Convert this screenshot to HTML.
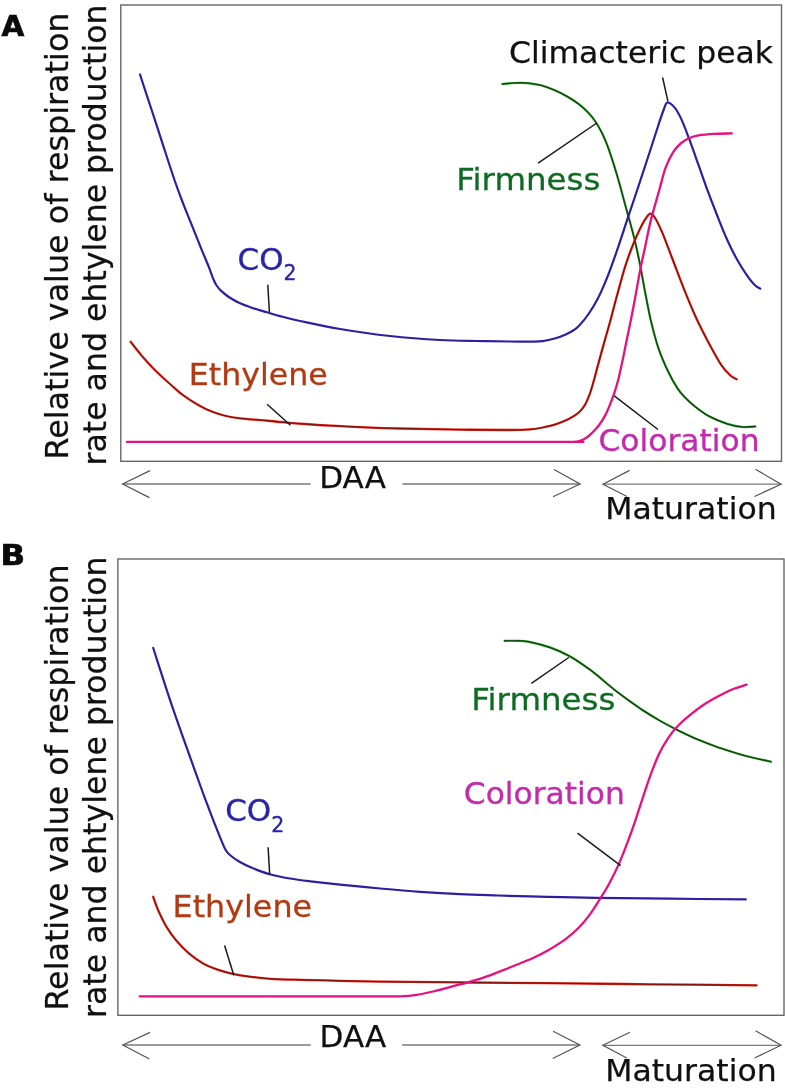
<!DOCTYPE html>
<html lang="en">
<head>
<meta charset="utf-8">
<title>Respiration and ethylene production during fruit development</title>
<style>
html,body{margin:0;padding:0;background:#fff;}
svg{display:block;}
text{font-family:"DejaVu Sans","Liberation Sans",sans-serif;}
.lbl{font-size:31px;}
.vl{font-size:32.5px;fill:#101010;stroke:#101010;stroke-width:0.25;}
.pl{font-size:30px;font-weight:bold;fill:#0a0a0a;stroke:#0a0a0a;stroke-width:0.7;stroke-linejoin:miter;}
.frame{fill:none;stroke:#666;stroke-width:1.4;}
.arr{fill:none;stroke:#7a7a7a;stroke-width:1.3;}
.arh{fill:none;stroke:#555;stroke-width:1.2;stroke-linejoin:miter;}
.lead{fill:none;stroke:#1a1a1a;stroke-width:1.5;}
.c{fill:none;stroke-width:2;stroke-linecap:round;stroke-linejoin:round;}
.blue{stroke:#2c20a0;stroke-width:2.2;}
.red{stroke:#dc1c12;stroke-width:2.3;}
.redk{stroke:#3a0d08;stroke-width:0.8;stroke-opacity:0.8;}
.mag{stroke:#e6107f;stroke-width:2.3;}
.grn{stroke:#1f961f;stroke-width:2.2;}
.grnk{stroke:#123a0c;stroke-width:1.05;}
.k{fill:#101010;stroke:#101010;stroke-width:0.25;}
.g{fill:#0e6b22;stroke:#0e6b22;stroke-width:0.3;}
.b{fill:#2a24a8;stroke:#2a24a8;stroke-width:0.3;}
.r{fill:#b23a12;stroke:#b23a12;stroke-width:0.3;}
.m{fill:#c42aac;stroke:#c42aac;stroke-width:0.35;}
</style>
</head>
<body>
<svg width="785" height="1088" viewBox="0 0 785 1088">
<rect width="785" height="1088" fill="#fff"/>

<!-- ================= PANEL A ================= -->
<g id="panelA">
<text class="pl" x="1.6" y="36.2" style="font-size:28.6px" textLength="22.8" lengthAdjust="spacingAndGlyphs">A</text>
<rect class="frame" x="120.8" y="5" width="660.7" height="456.3"/>
<text class="vl" transform="translate(68,459.5) rotate(-90)" textLength="447" lengthAdjust="spacingAndGlyphs">Relative value of respiration</text>
<text class="vl" transform="translate(105.5,465.5) rotate(-90)" textLength="461" lengthAdjust="spacingAndGlyphs">rate and ehtylene production</text>

<path class="c grn" d="M502.3,84.0 C504.3,83.8 509.9,83.2 514.1,83.0 C518.3,82.8 523.0,82.7 527.5,83.1 C532.0,83.5 536.4,84.1 540.9,85.3 C545.4,86.5 549.8,88.2 554.2,90.1 C558.7,92.0 563.5,94.4 567.6,96.8 C571.8,99.2 575.6,101.7 579.1,104.4 C582.6,107.1 585.8,110.1 588.6,113.0 C591.4,115.9 593.5,118.7 595.7,122.0 C597.9,125.3 600.0,129.0 602.0,133.1 C604.0,137.2 605.8,141.3 607.7,146.4 C609.6,151.5 611.6,157.6 613.5,163.6 C615.4,169.6 617.3,176.0 619.2,182.7 C621.1,189.4 623.0,196.8 624.9,203.8 C626.8,210.8 629.0,218.3 630.7,224.8 C632.5,231.3 633.9,236.4 635.4,243.0 C636.9,249.6 638.4,256.5 640.0,264.5 C641.6,272.5 643.1,281.8 644.9,291.0 C646.7,300.2 648.5,310.5 650.7,320.0 C653.0,329.5 655.5,339.6 658.4,348.2 C661.3,356.8 664.8,364.6 668.0,371.3 C671.2,378.1 674.9,384.4 677.7,388.7 C680.5,393.0 682.1,394.4 685.0,397.4 C687.9,400.4 691.1,403.4 695.0,406.5 C698.9,409.6 703.2,413.1 708.6,416.0 C714.0,418.9 721.6,422.1 727.3,423.9 C733.0,425.7 738.2,426.6 742.9,427.0 C747.6,427.4 753.3,426.5 755.4,426.4"/>
<path class="c grnk" d="M502.3,84.0 C504.3,83.8 509.9,83.2 514.1,83.0 C518.3,82.8 523.0,82.7 527.5,83.1 C532.0,83.5 536.4,84.1 540.9,85.3 C545.4,86.5 549.8,88.2 554.2,90.1 C558.7,92.0 563.5,94.4 567.6,96.8 C571.8,99.2 575.6,101.7 579.1,104.4 C582.6,107.1 585.8,110.1 588.6,113.0 C591.4,115.9 593.5,118.7 595.7,122.0 C597.9,125.3 600.0,129.0 602.0,133.1 C604.0,137.2 605.8,141.3 607.7,146.4 C609.6,151.5 611.6,157.6 613.5,163.6 C615.4,169.6 617.3,176.0 619.2,182.7 C621.1,189.4 623.0,196.8 624.9,203.8 C626.8,210.8 629.0,218.3 630.7,224.8 C632.5,231.3 633.9,236.4 635.4,243.0 C636.9,249.6 638.4,256.5 640.0,264.5 C641.6,272.5 643.1,281.8 644.9,291.0 C646.7,300.2 648.5,310.5 650.7,320.0 C653.0,329.5 655.5,339.6 658.4,348.2 C661.3,356.8 664.8,364.6 668.0,371.3 C671.2,378.1 674.9,384.4 677.7,388.7 C680.5,393.0 682.1,394.4 685.0,397.4 C687.9,400.4 691.1,403.4 695.0,406.5 C698.9,409.6 703.2,413.1 708.6,416.0 C714.0,418.9 721.6,422.1 727.3,423.9 C733.0,425.7 738.2,426.6 742.9,427.0 C747.6,427.4 753.3,426.5 755.4,426.4"/>
<path class="c blue" d="M140.0,74.5 C141.9,80.3 147.6,97.7 151.5,109.5 C155.4,121.3 159.4,133.8 163.2,145.6 C167.0,157.3 171.2,170.4 174.5,180.0 C177.8,189.6 180.0,195.2 182.9,202.9 C185.8,210.6 189.0,218.2 192.1,225.9 C195.2,233.6 198.5,241.9 201.3,248.8 C204.1,255.7 206.9,262.1 208.9,267.2 C210.9,272.3 212.2,276.3 213.5,279.4 C214.8,282.4 215.3,283.6 216.6,285.5 C217.9,287.4 219.2,289.0 221.2,290.9 C223.2,292.8 225.8,295.0 228.8,297.0 C231.9,299.0 235.7,301.3 239.5,303.1 C243.3,304.9 247.1,306.2 251.7,307.7 C256.3,309.2 262.3,310.9 267.0,312.3 C271.7,313.7 274.5,314.7 280.0,316.1 C285.5,317.6 290.0,318.9 300.0,321.0 C310.0,323.1 325.0,326.5 340.0,329.0 C355.0,331.5 373.3,334.2 390.0,336.0 C406.7,337.8 425.7,339.2 440.0,340.0 C454.3,340.8 464.3,340.8 476.0,341.0 C487.7,341.2 501.0,341.4 510.0,341.5 C519.0,341.6 524.5,341.8 530.0,341.7 C535.5,341.6 538.5,341.8 542.7,341.2 C547.0,340.6 551.7,339.4 555.5,338.3 C559.3,337.2 562.6,335.9 565.7,334.5 C568.8,333.1 571.7,331.5 574.0,330.0 C576.3,328.5 576.8,328.2 579.3,325.5 C581.8,322.8 585.7,318.2 588.9,313.5 C592.1,308.8 595.4,303.4 598.6,297.0 C601.8,290.6 605.0,283.1 608.2,274.9 C611.4,266.7 614.7,257.2 617.9,247.9 C621.1,238.6 624.3,228.6 627.5,218.9 C630.7,209.2 634.1,199.3 637.2,190.0 C640.3,180.7 642.5,173.9 646.1,163.0 C649.7,152.1 655.5,133.8 658.6,124.5 C661.7,115.2 663.0,111.2 664.5,107.5 C666.0,103.8 665.9,102.5 667.6,102.5 C669.3,102.5 672.2,104.7 674.5,107.4 C676.8,110.1 678.8,113.8 681.2,118.9 C683.6,124.0 686.0,130.5 688.9,138.2 C691.8,145.9 695.4,156.2 698.6,165.2 C701.8,174.2 705.0,183.5 708.2,192.2 C711.4,200.9 714.7,209.2 717.9,217.3 C721.1,225.4 724.3,233.4 727.5,240.5 C730.7,247.6 734.0,254.0 737.2,259.8 C740.4,265.6 743.9,271.0 746.8,275.2 C749.7,279.4 752.2,282.6 754.5,284.8 C756.8,287.1 759.3,288.1 760.3,288.7"/>
<path class="c red" d="M130.6,341.8 C132.6,344.2 138.4,351.9 142.4,356.5 C146.4,361.1 150.2,365.3 154.6,369.7 C159.0,374.1 164.2,378.8 168.9,383.0 C173.7,387.2 178.3,391.6 183.1,395.2 C187.8,398.8 192.6,401.7 197.4,404.4 C202.2,407.1 206.9,409.6 211.7,411.5 C216.5,413.4 221.2,414.9 226.0,416.0 C230.8,417.1 234.4,417.6 240.2,418.3 C246.0,419.0 253.6,419.5 260.6,420.1 C267.6,420.7 274.6,421.5 282.0,422.1 C289.4,422.8 297.0,423.4 305.0,424.0 C313.0,424.6 320.0,425.1 330.0,425.6 C340.0,426.2 353.3,426.8 365.0,427.3 C376.7,427.8 384.2,428.1 400.0,428.5 C415.8,428.9 441.7,429.4 460.0,429.6 C478.3,429.9 498.3,430.0 510.0,430.0 C521.7,430.0 524.5,429.8 530.0,429.4 C535.5,429.0 538.5,428.4 542.7,427.5 C547.0,426.6 551.2,425.7 555.5,424.3 C559.8,422.9 564.4,421.1 568.2,419.2 C572.0,417.3 575.6,415.1 578.4,412.8 C581.2,410.5 582.9,408.4 584.8,405.2 C586.7,402.0 588.4,397.7 589.9,393.7 C591.4,389.7 592.4,385.5 593.7,381.0 C595.0,376.5 596.2,371.6 597.5,366.9 C598.8,362.2 600.0,357.6 601.3,352.9 C602.6,348.2 603.7,344.2 605.2,338.9 C606.7,333.6 608.1,329.0 610.2,321.2 C612.3,313.4 615.3,301.5 617.9,292.2 C620.5,282.9 623.0,273.2 625.6,265.2 C628.2,257.2 630.7,250.4 633.3,244.0 C635.9,237.6 638.8,231.2 641.0,226.7 C643.2,222.2 645.2,219.2 646.8,217.0 C648.3,214.8 649.0,213.7 650.3,213.7 C651.6,213.7 652.5,213.9 654.5,217.0 C656.5,220.1 659.3,225.7 662.2,232.4 C665.1,239.2 668.3,248.2 671.9,257.5 C675.5,266.8 679.6,278.1 683.6,288.1 C687.6,298.1 691.9,308.6 696.1,317.7 C700.3,326.8 704.5,334.9 708.6,342.7 C712.8,350.5 717.4,359.1 721.0,364.6 C724.6,370.1 727.8,373.1 730.4,375.5 C733.0,377.9 735.6,378.6 736.6,379.2"/>
<path class="c redk" d="M130.6,341.8 C132.6,344.2 138.4,351.9 142.4,356.5 C146.4,361.1 150.2,365.3 154.6,369.7 C159.0,374.1 164.2,378.8 168.9,383.0 C173.7,387.2 178.3,391.6 183.1,395.2 C187.8,398.8 192.6,401.7 197.4,404.4 C202.2,407.1 206.9,409.6 211.7,411.5 C216.5,413.4 221.2,414.9 226.0,416.0 C230.8,417.1 234.4,417.6 240.2,418.3 C246.0,419.0 253.6,419.5 260.6,420.1 C267.6,420.7 274.6,421.5 282.0,422.1 C289.4,422.8 297.0,423.4 305.0,424.0 C313.0,424.6 320.0,425.1 330.0,425.6 C340.0,426.2 353.3,426.8 365.0,427.3 C376.7,427.8 384.2,428.1 400.0,428.5 C415.8,428.9 441.7,429.4 460.0,429.6 C478.3,429.9 498.3,430.0 510.0,430.0 C521.7,430.0 524.5,429.8 530.0,429.4 C535.5,429.0 538.5,428.4 542.7,427.5 C547.0,426.6 551.2,425.7 555.5,424.3 C559.8,422.9 564.4,421.1 568.2,419.2 C572.0,417.3 575.6,415.1 578.4,412.8 C581.2,410.5 582.9,408.4 584.8,405.2 C586.7,402.0 588.4,397.7 589.9,393.7 C591.4,389.7 592.4,385.5 593.7,381.0 C595.0,376.5 596.2,371.6 597.5,366.9 C598.8,362.2 600.0,357.6 601.3,352.9 C602.6,348.2 603.7,344.2 605.2,338.9 C606.7,333.6 608.1,329.0 610.2,321.2 C612.3,313.4 615.3,301.5 617.9,292.2 C620.5,282.9 623.0,273.2 625.6,265.2 C628.2,257.2 630.7,250.4 633.3,244.0 C635.9,237.6 638.8,231.2 641.0,226.7 C643.2,222.2 645.2,219.2 646.8,217.0 C648.3,214.8 649.0,213.7 650.3,213.7 C651.6,213.7 652.5,213.9 654.5,217.0 C656.5,220.1 659.3,225.7 662.2,232.4 C665.1,239.2 668.3,248.2 671.9,257.5 C675.5,266.8 679.6,278.1 683.6,288.1 C687.6,298.1 691.9,308.6 696.1,317.7 C700.3,326.8 704.5,334.9 708.6,342.7 C712.8,350.5 717.4,359.1 721.0,364.6 C724.6,370.1 727.8,373.1 730.4,375.5 C733.0,377.9 735.6,378.6 736.6,379.2"/>
<path class="c mag" d="M127.0,441.9 C155.8,441.9 227.8,441.9 300.0,441.9 C372.2,441.9 514.5,441.9 560.0,441.9 C605.5,441.9 570.0,442.0 573.0,441.9 C576.0,441.8 576.2,441.8 578.0,441.4 C579.8,441.0 581.3,440.9 583.5,439.6 C585.7,438.3 588.6,436.2 591.1,433.8 C593.6,431.4 596.4,428.6 598.8,425.5 C601.1,422.4 603.3,419.0 605.2,415.4 C607.1,411.8 608.8,407.5 610.3,403.9 C611.8,400.3 612.8,397.5 614.1,393.7 C615.4,389.9 616.6,385.9 617.9,381.0 C619.2,376.1 620.5,369.7 621.7,364.4 C622.9,359.1 623.0,358.6 624.9,349.1 C626.8,339.7 630.8,320.7 633.3,307.7 C635.8,294.7 638.1,281.0 640.0,271.0 C641.9,261.0 643.1,256.2 644.9,247.9 C646.7,239.6 648.3,230.6 650.7,220.9 C653.1,211.2 656.8,198.9 659.3,190.0 C661.8,181.1 663.4,173.6 665.8,167.2 C668.2,160.8 670.9,155.7 673.5,151.7 C676.1,147.7 678.6,145.2 681.2,143.0 C683.8,140.8 686.0,139.5 688.9,138.2 C691.8,136.9 694.4,136.0 698.6,135.3 C702.8,134.6 708.5,134.1 714.0,133.8 C719.5,133.5 728.8,133.5 731.8,133.4"/>

<path class="lead" d="M662.6,77.5 L668,101.6"/>
<path class="lead" d="M596.8,123 L538.1,163.2"/>
<path class="lead" d="M267.8,284.7 L269.4,312.3"/>
<path class="lead" d="M267.1,404.2 L290.4,425.2"/>
<path class="lead" d="M614.3,395.8 L658,429.5"/>

<text class="lbl k" x="509" y="63" textLength="264" lengthAdjust="spacingAndGlyphs">Climacteric peak</text>
<text class="lbl g" x="456.3" y="189.5" textLength="144" lengthAdjust="spacingAndGlyphs">Firmness</text>
<text class="lbl b" x="237.5" y="270">CO<tspan style="font-size:20.5px" dy="10">2</tspan></text>
<text class="lbl r" x="188.8" y="384.5" textLength="139" lengthAdjust="spacingAndGlyphs">Ethylene</text>
<text class="lbl m" x="598.5" y="450.5" textLength="161" lengthAdjust="spacingAndGlyphs">Coloration</text>

<path class="arr" d="M122.6,484 L310.6,484"/>
<path class="arh" d="M150,470.6 L122.6,484 L149.4,497.6"/>
<path class="arr" d="M402.4,484 L580.1,484"/>
<path class="arh" d="M554,469.5 L580.1,484 L553,496.8"/>
<text class="lbl k" x="319.3" y="488">DAA</text>
<path class="arr" d="M603,484.2 L781.1,484.2"/>
<path class="arh" d="M629.6,470.4 L603,484.2 L627,496.5 M755.5,469.3 L781.1,484.2 L754.5,496.5"/>
<text class="lbl k" x="605.2" y="518.5" textLength="171.5" lengthAdjust="spacingAndGlyphs">Maturation</text>
</g>

<!-- ================= PANEL B ================= -->
<g id="panelB">
<text class="pl" x="0.4" y="565.3" style="font-size:27.5px" textLength="24.6" lengthAdjust="spacingAndGlyphs">B</text>
<rect class="frame" x="117.9" y="559" width="666.1" height="456.3"/>
<text class="vl" transform="translate(68,1010.5) rotate(-90)" textLength="446" lengthAdjust="spacingAndGlyphs">Relative value of respiration</text>
<text class="vl" transform="translate(105.5,1018) rotate(-90)" textLength="461.5" lengthAdjust="spacingAndGlyphs">rate and ehtylene production</text>

<path class="c grn" d="M504.6,640.8 C506.5,640.8 512.1,640.7 516.0,640.8 C519.9,640.9 522.2,640.5 527.9,641.6 C533.5,642.7 542.9,645.0 549.9,647.4 C556.9,649.8 563.1,652.6 569.7,656.2 C576.3,659.9 584.5,665.7 589.5,669.3 C594.5,672.9 595.9,674.3 600.0,677.7 C604.1,681.1 609.4,685.8 614.1,689.5 C618.8,693.2 623.6,696.7 628.3,700.1 C633.0,703.5 637.3,706.7 642.4,710.0 C647.5,713.3 653.0,716.7 658.9,720.1 C664.8,723.5 671.1,726.9 677.8,730.2 C684.5,733.5 692.3,737.3 699.0,740.1 C705.7,742.9 710.7,744.8 717.8,747.2 C724.9,749.6 732.5,752.3 741.4,754.7 C750.2,757.1 766.0,760.6 770.9,761.8"/>
<path class="c grnk" d="M504.6,640.8 C506.5,640.8 512.1,640.7 516.0,640.8 C519.9,640.9 522.2,640.5 527.9,641.6 C533.5,642.7 542.9,645.0 549.9,647.4 C556.9,649.8 563.1,652.6 569.7,656.2 C576.3,659.9 584.5,665.7 589.5,669.3 C594.5,672.9 595.9,674.3 600.0,677.7 C604.1,681.1 609.4,685.8 614.1,689.5 C618.8,693.2 623.6,696.7 628.3,700.1 C633.0,703.5 637.3,706.7 642.4,710.0 C647.5,713.3 653.0,716.7 658.9,720.1 C664.8,723.5 671.1,726.9 677.8,730.2 C684.5,733.5 692.3,737.3 699.0,740.1 C705.7,742.9 710.7,744.8 717.8,747.2 C724.9,749.6 732.5,752.3 741.4,754.7 C750.2,757.1 766.0,760.6 770.9,761.8"/>
<path class="c blue" d="M153.2,648.0 C156.6,658.4 166.0,688.2 173.5,710.2 C181.0,732.2 192.8,764.6 198.3,780.0 C203.8,795.4 203.8,795.1 206.5,802.4 C209.2,809.7 212.3,817.7 214.7,823.8 C217.1,829.9 219.1,834.9 220.8,839.1 C222.6,843.4 223.7,846.6 225.2,849.3 C226.7,851.9 227.6,853.0 229.9,855.0 C232.2,857.0 235.5,859.4 239.1,861.5 C242.7,863.6 246.2,865.5 251.3,867.6 C256.4,869.7 263.2,872.4 269.7,874.2 C276.2,876.0 283.3,877.3 290.1,878.5 C296.9,879.7 302.1,880.3 310.4,881.3 C318.7,882.3 328.4,883.4 340.0,884.6 C351.6,885.8 366.6,887.3 379.9,888.5 C393.2,889.7 406.6,890.9 420.0,891.8 C433.4,892.7 447.0,893.5 460.0,894.1 C473.0,894.7 483.5,895.0 498.0,895.5 C512.5,896.0 530.7,896.4 547.0,896.8 C563.3,897.2 575.5,897.5 596.0,897.8 C616.5,898.1 645.0,898.4 670.0,898.7 C695.0,899.0 733.2,899.3 745.8,899.4"/>
<path class="c red" d="M153.2,896.8 C154.0,899.1 156.1,905.5 158.3,910.5 C160.5,915.5 163.4,921.7 166.5,926.8 C169.6,931.9 173.0,936.7 176.7,941.1 C180.4,945.5 184.5,949.6 188.9,953.3 C193.3,957.0 198.4,960.8 203.2,963.5 C208.0,966.2 212.4,967.8 217.5,969.6 C222.6,971.4 228.4,972.9 233.8,974.1 C239.2,975.3 244.0,975.9 250.1,976.7 C256.2,977.5 262.1,978.3 270.4,978.8 C278.7,979.3 288.4,979.5 300.0,979.8 C311.6,980.1 326.7,980.5 340.0,980.8 C353.3,981.1 359.9,981.3 379.9,981.6 C399.9,981.9 432.1,982.1 460.0,982.4 C487.9,982.7 515.3,982.9 547.0,983.2 C578.7,983.5 615.1,983.9 650.0,984.3 C684.9,984.6 738.8,985.1 756.6,985.3"/>
<path class="c redk" d="M153.2,896.8 C154.0,899.1 156.1,905.5 158.3,910.5 C160.5,915.5 163.4,921.7 166.5,926.8 C169.6,931.9 173.0,936.7 176.7,941.1 C180.4,945.5 184.5,949.6 188.9,953.3 C193.3,957.0 198.4,960.8 203.2,963.5 C208.0,966.2 212.4,967.8 217.5,969.6 C222.6,971.4 228.4,972.9 233.8,974.1 C239.2,975.3 244.0,975.9 250.1,976.7 C256.2,977.5 262.1,978.3 270.4,978.8 C278.7,979.3 288.4,979.5 300.0,979.8 C311.6,980.1 326.7,980.5 340.0,980.8 C353.3,981.1 359.9,981.3 379.9,981.6 C399.9,981.9 432.1,982.1 460.0,982.4 C487.9,982.7 515.3,982.9 547.0,983.2 C578.7,983.5 615.1,983.9 650.0,984.3 C684.9,984.6 738.8,985.1 756.6,985.3"/>
<path class="c mag" d="M139.7,996.3 C158.1,996.3 209.9,996.3 250.0,996.3 C290.1,996.3 355.0,996.3 380.0,996.3 C405.0,996.3 393.9,996.5 400.0,996.3 C406.1,996.0 411.1,995.6 416.6,994.8 C422.1,994.0 427.6,992.8 433.1,991.5 C438.6,990.2 444.2,988.6 449.7,987.1 C455.2,985.6 460.7,984.3 466.2,982.8 C471.7,981.3 477.3,979.8 482.8,977.9 C488.3,976.0 493.9,973.8 499.4,971.6 C504.9,969.5 510.4,967.2 515.9,965.0 C521.4,962.8 527.0,960.8 532.5,958.3 C538.0,955.8 543.6,952.9 549.1,949.7 C554.6,946.5 560.6,942.8 565.6,939.1 C570.6,935.4 575.0,931.4 578.9,927.5 C582.8,923.6 585.5,920.3 588.8,915.9 C592.1,911.5 595.4,906.2 598.7,901.0 C602.0,895.8 605.4,890.6 608.7,884.5 C612.0,878.4 615.3,872.0 618.6,864.6 C621.9,857.2 625.6,847.4 628.4,840.0 C631.2,832.6 633.1,827.1 635.4,820.3 C637.7,813.5 640.0,806.1 642.4,799.0 C644.8,791.9 646.8,785.2 649.5,777.8 C652.2,770.3 655.8,761.0 658.9,754.3 C662.0,747.6 665.1,742.5 668.3,737.8 C671.4,733.1 674.2,729.7 677.8,726.0 C681.3,722.3 685.3,718.9 689.6,715.4 C693.9,711.9 699.0,707.9 703.7,704.8 C708.4,701.6 713.1,699.0 717.8,696.5 C722.5,694.0 727.2,691.5 732.0,689.5 C736.8,687.5 744.2,685.5 746.6,684.7"/>

<path class="lead" d="M568.8,657.5 L531.4,683.4"/>
<path class="lead" d="M268.1,847.3 L269.7,874.8"/>
<path class="lead" d="M224.6,945.5 L233.8,975.3"/>
<path class="lead" d="M577.5,833.2 L620.7,865.6"/>

<text class="lbl g" x="471.3" y="710" textLength="144" lengthAdjust="spacingAndGlyphs">Firmness</text>
<text class="lbl m" x="463.8" y="803.5" textLength="161" lengthAdjust="spacingAndGlyphs">Coloration</text>
<text class="lbl b" x="225.2" y="821">CO<tspan style="font-size:20.5px" dy="10.5">2</tspan></text>
<text class="lbl r" x="172.6" y="916.5" textLength="139.5" lengthAdjust="spacingAndGlyphs">Ethylene</text>

<path class="arr" d="M122.8,1045 L310.6,1045"/>
<path class="arh" d="M150,1032.4 L122.8,1045 L149.4,1059"/>
<path class="arr" d="M402.2,1045 L579.9,1045"/>
<path class="arh" d="M553.1,1031.2 L579.9,1045 L552.7,1058.5"/>
<text class="lbl k" x="319.6" y="1047">DAA</text>
<path class="arr" d="M602.8,1045.3 L781.1,1045.3"/>
<path class="arh" d="M630,1032.3 L602.8,1045.3 L626.8,1058 M755.5,1030.8 L781.1,1045.3 L754.5,1058"/>
<text class="lbl k" x="605.2" y="1080.5" textLength="171.5" lengthAdjust="spacingAndGlyphs">Maturation</text>
</g>

</svg>
</body>
</html>
